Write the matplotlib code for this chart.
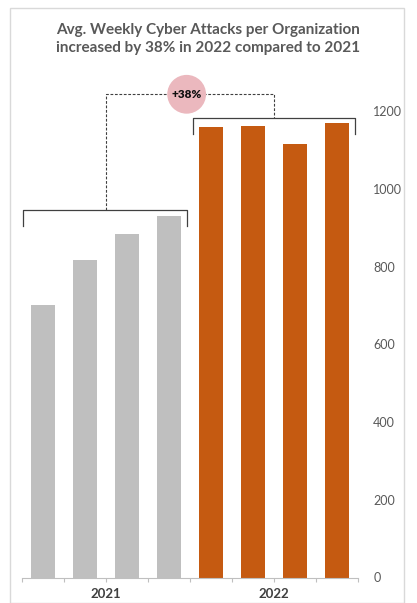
import matplotlib
matplotlib.use("Agg")
import matplotlib.pyplot as plt
from matplotlib.patches import Rectangle

plt.rcParams['font.family'] = ['Lato', 'DejaVu Sans']

years = ["2021", "2022"]
quarters_per_year = 4
values_2021 = [700, 818, 884, 930]
values_2022 = [1160, 1162, 1115, 1169]
yticks = [0, 200, 400, 600, 800, 1000, 1200]
title = "Avg. Weekly Cyber Attacks per Organization\nincreased by 38% in 2022 compared to 2021"
change_label = "+38%"

W, H = 417, 603
fig = plt.figure(figsize=(W / 100, H / 100), dpi=100)
fig.patches.append(Rectangle((10 / W, 0), 394 / W, 1 - 8 / H, transform=fig.transFigure,
                             fill=False, edgecolor="#d9d9d9", linewidth=1.0))

ax = fig.add_axes([22 / W, 1 - 577.5 / H, 336 / W, (577.5 - 111) / H])

x21 = list(range(quarters_per_year))
x22 = [quarters_per_year + i for i in range(quarters_per_year)]
ax.bar(x21, values_2021, width=0.57, color="#BFBFBF")
ax.bar(x22, values_2022, width=0.57, color="#C55A11")

ax.set_xlim(-0.5, 7.5)
ax.set_ylim(0, 1200)
for s in ["top", "left", "right"]:
    ax.spines[s].set_visible(False)
ax.spines["bottom"].set_color("#bfbfbf")
ax.spines["bottom"].set_linewidth(0.8)

ax.yaxis.tick_right()
ax.set_yticks(yticks)
ax.set_yticklabels([str(v) for v in yticks], fontsize=9, color="#595959")
ax.tick_params(axis="y", length=0, pad=11)

ax.set_xticks([i - 0.5 for i in range(9)])
ax.set_xticklabels([])
ax.tick_params(axis="x", length=3, color="#bfbfbf", width=0.8)

c21 = sum(x21) / len(x21)
c22 = sum(x22) / len(x22)
for c, yl in zip([c21, c22], years):
    ax.text(c, -28, yl, ha="center", va="top", fontsize=9.5, fontweight="bold",
            color="#404040")

# brackets
def bracket(x0, x1, y, drop):
    ax.plot([x0, x0, x1, x1], [y - drop, y, y, y - drop], color="#404040",
            linewidth=0.9, clip_on=False, solid_joinstyle="round")

bracket(-0.48, 3.42, 945, 40)
bracket(3.57, 7.43, 1182, 40)

ax.plot([c21, c21, c22, c22], [945, 1243, 1243, 1182], color="#404040",
        linewidth=0.8, linestyle=(0, (2.5, 1.5)), clip_on=False)

ax.scatter([3.42], [1243], s=780, color="#EBB8BE", zorder=5, clip_on=False,
           edgecolors="none")
ax.text(3.42, 1243, change_label, ha="center", va="center", fontsize=8.5,
        fontweight="heavy", color="#111111", zorder=6)

fig.text(0.5, 1 - 39 / H, title, ha="center", va="center", fontsize=11,
         fontweight="bold", color="#595959", linespacing=1.4)

fig.savefig("out.png", dpi=100)
